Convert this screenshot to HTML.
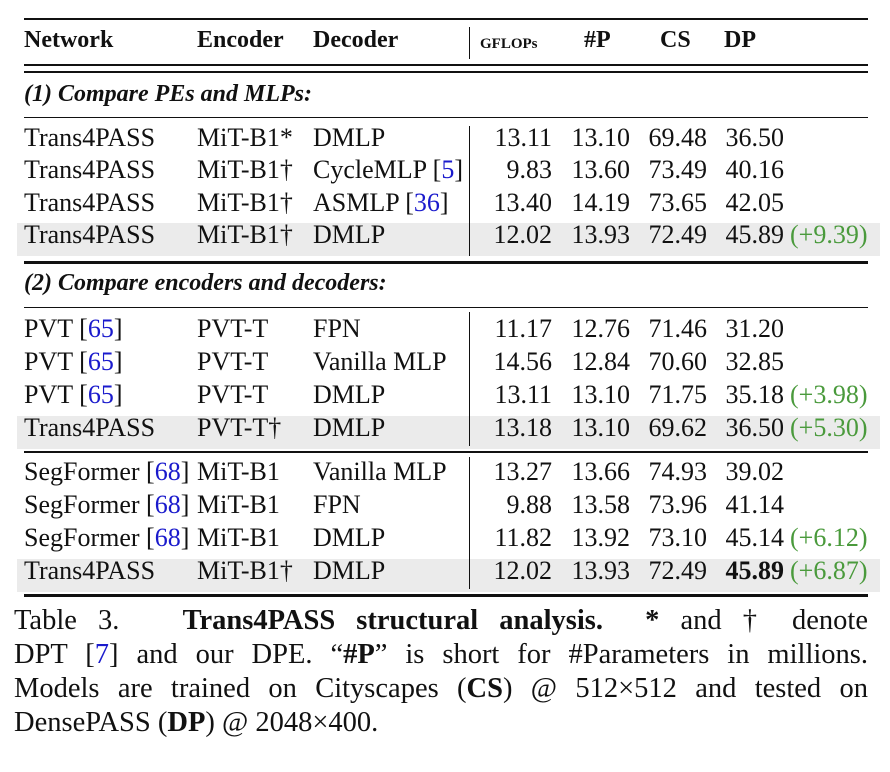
<!DOCTYPE html>
<html><head><meta charset="utf-8"><style>
body{margin:0;width:890px;height:772px;background:#fff;position:relative;overflow:hidden;font-family:"Liberation Serif",serif;color:#111}
.t{position:absolute;white-space:nowrap;font-size:26px;line-height:1}
.r{text-align:right}
.b{font-weight:bold}
.rule{position:absolute;left:24px;width:844px;background:#111}
.vl{position:absolute;left:469px;width:1px;background:#111}
.hl{position:absolute;left:17px;width:863px;background:#ebebeb}
.blue{color:#1a1acc}
.green{color:#4a9a3c}
.cap{position:absolute;left:14px;width:854px;font-size:28.5px;line-height:1;white-space:nowrap;text-align:justify;text-align-last:justify}
</style></head><body>
<div id="table"></div>
<div class="cap" style="top:607px">Table 3.&nbsp;&nbsp;&nbsp;<b>Trans4PASS structural analysis.</b>&nbsp;&nbsp;<b>*</b> and † denote</div>
<div class="cap" style="top:641px">DPT [<span class="blue">7</span>] and our DPE. “<b>#P</b>” is short for #Parameters in millions.</div>
<div class="cap" style="top:675px">Models are trained on Cityscapes (<b>CS</b>) @ 512×512 and tested on</div>
<div class="cap" style="top:709px;text-align-last:left">DensePASS (<b>DP</b>) @ 2048×400.</div>
<script>
const rows=[
 ["Trans4PASS","MiT-B1*","DMLP","13.11","13.10","69.48","36.50","",0,148],
 ["Trans4PASS","MiT-B1†","CycleMLP [<span class='blue'>5</span>]","9.83","13.60","73.49","40.16","",0,180],
 ["Trans4PASS","MiT-B1†","ASMLP [<span class='blue'>36</span>]","13.40","14.19","73.65","42.05","",0,213],
 ["Trans4PASS","MiT-B1†","DMLP","12.02","13.93","72.49","45.89","(+9.39)",1,245],
 ["PVT [<span class='blue'>65</span>]","PVT-T","FPN","11.17","12.76","71.46","31.20","",0,339],
 ["PVT [<span class='blue'>65</span>]","PVT-T","Vanilla MLP","14.56","12.84","70.60","32.85","",0,372],
 ["PVT [<span class='blue'>65</span>]","PVT-T","DMLP","13.11","13.10","71.75","35.18","(+3.98)",0,405],
 ["Trans4PASS","PVT-T†","DMLP","13.18","13.10","69.62","36.50","(+5.30)",1,438],
 ["SegFormer [<span class='blue'>68</span>]","MiT-B1","Vanilla MLP","13.27","13.66","74.93","39.02","",0,482],
 ["SegFormer [<span class='blue'>68</span>]","MiT-B1","FPN","9.88","13.58","73.96","41.14","",0,515],
 ["SegFormer [<span class='blue'>68</span>]","MiT-B1","DMLP","11.82","13.92","73.10","45.14","(+6.12)",0,548],
 ["Trans4PASS","MiT-B1†","DMLP","12.02","13.93","72.49","<b>45.89</b>","(+6.87)",1,581]
];
const T=document.getElementById('table');
function add(html,cls,style){const d=document.createElement('div');d.className=cls;d.style.cssText=style;d.innerHTML=html;T.appendChild(d);return d;}
let e;
rows.forEach(r=>{if(r[8]){e=add('','hl','top:'+(r[9]-22)+'px;height:33px');

}});
[[18,2],[64,1.5],[71,1.5],[117,1],[261,3],[307,1],[451,2],[594,2.5]].forEach(a=>{e=add('','rule','top:'+a[0]+'px;height:'+a[1]+'px');

});
[[27,59],[126,256],[312,446],[457,589]].forEach(a=>{e=add('','vl','top:'+a[0]+'px;height:'+(a[1]-a[0])+'px');

});
const hdr=[["Network",24,24],["Encoder",197,24],["Decoder",313,24],["GFLOPs",480,15],["#P",584,24],["CS",660,24],["DP",724,24]];
hdr.forEach(h=>{e=add(h[0],'t b','left:'+h[1]+'px;top:'+(50-h[2]*0.9)+'px;font-size:'+h[2]+'px');

});
e=add('<i>(1) Compare PEs and MLPs:</i>','t b','left:24px;top:82px;font-size:24px');


e=add('<i>(2) Compare encoders and decoders:</i>','t b','left:24px;top:271px;font-size:24px');


const lefts=[24,197,313];const rights=[552,630,707,784];
rows.forEach(r=>{const top=r[9]-23;
 for(let i=0;i<3;i++){e=add(r[i],'t','left:'+lefts[i]+'px;top:'+top+'px');
 
 }
 for(let i=0;i<4;i++){e=add(r[3+i],'t r','right:'+(890-rights[i])+'px;top:'+top+'px');
 
 }
 if(r[7]){e=add(r[7],'t green','left:790px;top:'+top+'px');
 
 }
});
</script>
</body></html>
